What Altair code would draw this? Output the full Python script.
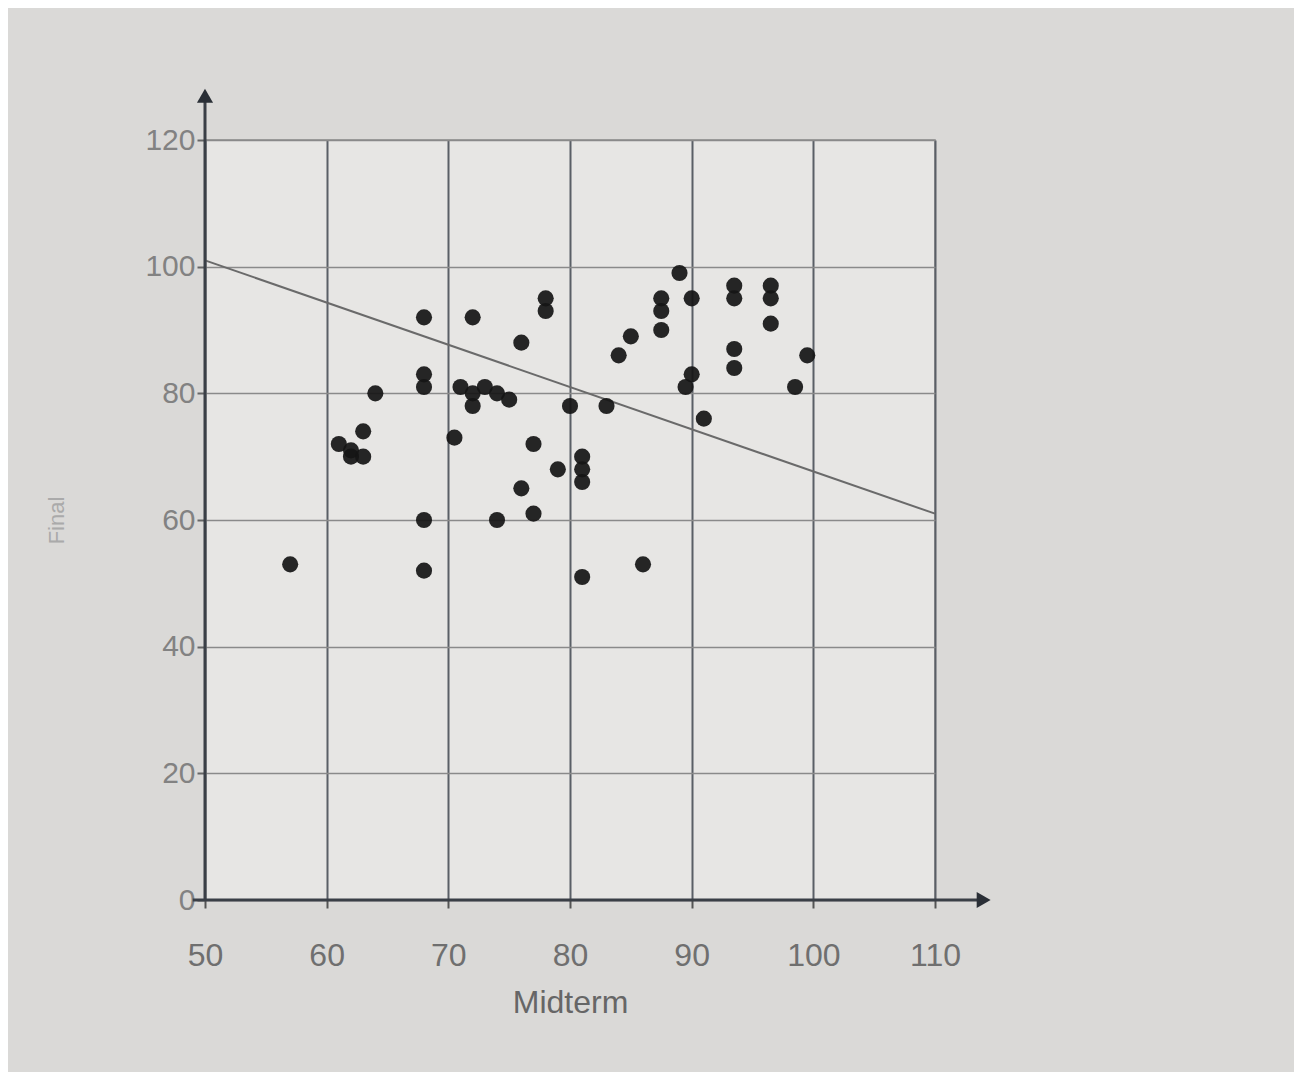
import altair as alt
import pandas as pd

midterm = [57, 68, 68, 68, 68, 68, 61, 62, 62, 63, 63, 64, 70.5, 71, 72, 73, 74, 75, 72, 72,
           74, 76, 78, 78, 76, 77, 77, 79, 80, 81, 81, 81, 81, 83, 84, 85, 86, 87.5, 87.5, 87.5,
           89, 90, 89.5, 90, 91, 93.5, 93.5, 93.5, 93.5, 96.5, 96.5, 96.5, 98.5, 99.5]
final = [53, 52, 60, 81, 83, 92, 72, 71, 70, 74, 70, 80, 73, 81, 80, 81, 80, 79, 78, 92,
         60, 88, 93, 95, 65, 61, 72, 68, 78, 70, 68, 66, 51, 78, 86, 89, 53, 95, 93, 90,
         99, 95, 81, 83, 76, 97, 95, 87, 84, 97, 95, 91, 81, 86]

line_x = [50, 110]
line_y = [101, 61]

x_ticks = [50, 60, 70, 80, 90, 100, 110]
y_ticks = [0, 20, 40, 60, 80, 100, 120]

pts = pd.DataFrame({"Midterm": midterm, "Final": final})
fit = pd.DataFrame({"Midterm": line_x, "Final": line_y})

xs = alt.Scale(domain=[50, 110], nice=False, zero=False)
ys = alt.Scale(domain=[0, 120], nice=False, zero=False)

label_font = "Liberation Sans"

xenc = alt.X("Midterm:Q", scale=xs,
             axis=alt.Axis(values=x_ticks, title="Midterm", grid=True, gridColor="#5a5f66",
                           gridWidth=2, domain=False, tickColor="#555", tickSize=8,
                           tickWidth=2, labelFontSize=32, labelColor="#6f6f6f",
                           labelFont=label_font, labelPadding=32, labelFlush=False,
                           titleFontSize=32, titleColor="#666", titleFont=label_font,
                           titleFontWeight="normal", titlePadding=16))
yenc = alt.Y("Final:Q", scale=ys,
             axis=alt.Axis(values=y_ticks, title="Final", grid=True, gridColor="#8a8a8a",
                           gridWidth=1.5, domain=False, tickColor="#666", tickSize=8,
                           tickWidth=2, labelFontSize=30, labelColor="#828282",
                           labelFont=label_font, labelPadding=2, labelFlush=False,
                           titleFontSize=22, titleColor="#aaa", titleFont=label_font,
                           titleFontWeight="normal", titlePadding=76))

points = alt.Chart(pts).mark_circle(size=260, color="#151515", opacity=0.92).encode(x=xenc, y=yenc)
trend = alt.Chart(fit).mark_line(color="#6a6a6a", strokeWidth=2).encode(x=xenc, y=yenc)

axes_df = pd.DataFrame({"x1": [50, 49], "y1": [0, 0], "x2": [50, 114], "y2": [127, 0]})
axis_lines = alt.Chart(axes_df).mark_rule(color="#3a3f46", strokeWidth=3, clip=False).encode(
    x=alt.X("x1:Q", scale=xs), y=alt.Y("y1:Q", scale=ys),
    x2="x2:Q", y2="y2:Q")

arrow_df = pd.DataFrame({"x": [50, 114], "y": [127, 0], "shape": ["triangle-up", "triangle-right"]})
arrows = alt.Chart(arrow_df).mark_point(filled=True, size=260, color="#2a2f36",
                                        opacity=1, clip=False).encode(
    x=alt.X("x:Q", scale=xs), y=alt.Y("y:Q", scale=ys),
    shape=alt.Shape("shape:N", scale=None))

chart = alt.layer(trend, axis_lines, points, arrows).properties(
    width=730, height=760,
    background="#dad9d7",
    padding={"left": 197, "top": 132, "right": 359, "bottom": 172},
    autosize=alt.AutoSizeParams(type="none"),
).configure_view(fill="#e7e6e4", stroke="#8a8a8a", strokeWidth=1.5)

chart.save("out.html", embed_options={"renderer": "svg", "actions": False})
